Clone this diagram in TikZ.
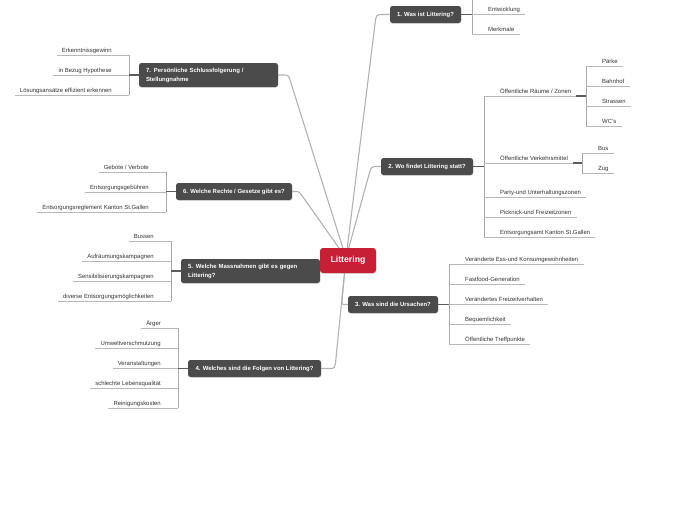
\documentclass[tikz,border=0pt]{standalone}
\usepackage{fontspec}
\setmainfont{Liberation Sans}
\usetikzlibrary{calc,shadows}
\definecolor{boxgray}{HTML}{4B4B4B}
\definecolor{litred}{HTML}{C81F36}
\definecolor{linegray}{HTML}{B2B2B2}
\definecolor{ulgray}{HTML}{B8B8B8}
\definecolor{brgray}{HTML}{A8A8A8}
\definecolor{txtgray}{HTML}{333333}
\newcommand{\leafR}[4]{%
  \node[leaf,anchor=base west] (#1) at (#2+16,#3-2.8) {#4};
  \draw[uline] (#2,#3) -- ($(#1.base east)+(5,2.8)$);}
\newcommand{\leafL}[4]{%
  \node[leaf,anchor=base east] (#1) at (#2-17,#3-2.8) {#4};
  \draw[uline] (#2,#3) -- ($(#1.base west)+(-5,2.8)$);}
\begin{document}
\begin{tikzpicture}[x=1pt,y=-1pt,
  mainbox/.style={fill=boxgray, rounded corners=2.5pt, text=white,
    font=\bfseries\fontsize{5.95}{9}\selectfont, minimum height=17pt,
    inner sep=0pt, align=center,
    drop shadow={opacity=0.22, shadow xshift=0.4pt, shadow yshift=-0.8pt}},
  widebox/.style={mainbox, text width=125pt, inner xsep=7pt, align=left, minimum height=24pt},
  rootbox/.style={fill=litred, rounded corners=3pt, text=white,
    font=\bfseries\fontsize{8.7}{10}\selectfont, minimum width=56pt, minimum height=25pt, inner sep=0pt,
    drop shadow={opacity=0.22, shadow xshift=0.4pt, shadow yshift=-0.8pt}},
  leaf/.style={inner sep=0pt, text=txtgray, font=\fontsize{5.95}{7}\selectfont},
  uline/.style={draw=ulgray, line width=0.8pt},
  bracket/.style={draw=brgray, line width=0.8pt},
  tie/.style={draw=boxgray!90, line width=1.3pt},
  branch/.style={draw=linegray, line width=1.1pt, line join=round},
]
\useasboundingbox (0,0) rectangle (697,520);
\fill[white] (0,0) rectangle (697,520);

\coordinate (hub) at (346,258);

% main boxes
\node[mainbox, minimum width=71pt] (b1) at (425.5,14.5) {1. Was ist Littering?};
\node[mainbox, minimum width=92pt] (b2) at (427,166.5) {2. Wo findet Littering statt?};
\node[mainbox, minimum width=90pt] (b3) at (393,304.5) {3. Was sind die Ursachen?};
\node[mainbox, minimum width=133pt] (b4) at (254.5,368.5) {4. Welches sind die Folgen von Littering?};
\node[widebox] (b5) at (250.5,271) {5. Welche Massnahmen gibt es gegen\\Littering?};
\node[mainbox, minimum width=116pt] (b6) at (234,191.5) {6. Welche Rechte / Gesetze gibt es?};
\node[widebox] (b7) at (208.5,75) {7. Persönliche Schlussfolgerung /\\Stellungnahme};

% branches from the root
\draw[branch] (hub) -- (375,24) .. controls (376.2,14.5) .. (383,14.5) -- (b1.west);
\draw[branch] (hub) -- (368,178) .. controls (371.2,166.5) .. (377,166.5) -- (b2.west);
\draw[branch] (hub) -- (342.4,296) .. controls (341.6,304.5) .. (345,304.5) -- (b3.west);
\draw[branch] (hub) -- (336,358) .. controls (335,368.5) .. (329,368.5) -- (b4.east);
\draw[branch] (hub) -- (b5.east);
\draw[branch] (hub) -- (303,197) .. controls (299.1,191.5) .. (295,191.5) -- (b6.east);
\draw[branch] (hub) -- (291,83) .. controls (288.5,75) .. (284,75) -- (b7.east);

\node[rootbox] (L) at (348,260.5) {Littering};

% 1
\draw[bracket] (472,0) -- (472,34);
\draw[tie] (b1.east) -- (472,14.5);
\leafR{e11}{472}{14}{Entwicklung}
\leafR{e12}{472}{34}{Merkmale}

% 2
\draw[bracket] (484,96) -- (484,237);
\draw[tie] (b2.east) -- (484,166.5);
\leafR{e21}{484}{96}{Öffentliche Räume / Zonen}
\leafR{e22}{484}{163}{Öffentliche Verkehrsmittel}
\leafR{e23}{484}{197}{Party-und Unterhaltungszonen}
\leafR{e24}{484}{217}{Picknick-und Freizeitzonen}
\leafR{e25}{484}{237}{Entsorgungsamt Kanton St.Gallen}
\draw[bracket] (586,66) -- (586,126);
\draw[tie] ($(e21.base east)+(5,2.8)$) -- (586,96);
\leafR{e211}{586}{66}{Pärke}
\leafR{e212}{586}{86}{Bahnhof}
\leafR{e213}{586}{106}{Strassen}
\leafR{e214}{586}{126}{WC's}
\draw[bracket] (582,153) -- (582,173);
\draw[tie] ($(e22.base east)+(5,2.8)$) -- (582,163);
\leafR{e221}{582}{153}{Bus}
\leafR{e222}{582}{173}{Zug}

% 3
\draw[bracket] (449,264) -- (449,344);
\draw[tie] (b3.east) -- (449,304.5);
\leafR{e31}{449}{264}{Veränderte Ess-und Konsumgewohnheiten}
\leafR{e32}{449}{284}{Fastfood-Generation}
\leafR{e33}{449}{304}{Verändertes Freizeitverhalten}
\leafR{e34}{449}{324}{Bequemlichkeit}
\leafR{e35}{449}{344}{Öffentliche Treffpunkte}

% 4
\draw[bracket] (178,328) -- (178,408);
\draw[tie] (b4.west) -- (178,368.5);
\leafL{e41}{178}{328}{Ärger}
\leafL{e42}{178}{348}{Umweltverschmutzung}
\leafL{e43}{178}{368}{Veranstaltungen}
\leafL{e44}{178}{388}{schlechte Lebensqualität}
\leafL{e45}{178}{408}{Reinigungskosten}

% 5
\draw[bracket] (171,241) -- (171,301);
\draw[tie] (b5.west) -- (171,271);
\leafL{e51}{171}{241}{Bussen}
\leafL{e52}{171}{261}{Aufräumungskampagnen}
\leafL{e53}{171}{281}{Sensibilisierungskampagnen}
\leafL{e54}{171}{301}{diverse Entsorgungsmöglichkeiten}

% 6
\draw[bracket] (166,172) -- (166,212);
\draw[tie] (b6.west) -- (166,191.5);
\leafL{e61}{166}{172}{Gebote / Verbote}
\leafL{e62}{166}{192}{Entsorgungsgebühren}
\leafL{e63}{166}{212}{Entsorgungsreglement Kanton St.Gallen}

% 7
\draw[bracket] (129,55) -- (129,95);
\draw[tie] (b7.west) -- (129,75);
\leafL{e71}{129}{55}{Erkenntnissgewinn}
\leafL{e72}{129}{75}{in Bezug Hypothese}
\leafL{e73}{129}{95}{Lösungsansätze effizient erkennen}
\end{tikzpicture}
\end{document}
